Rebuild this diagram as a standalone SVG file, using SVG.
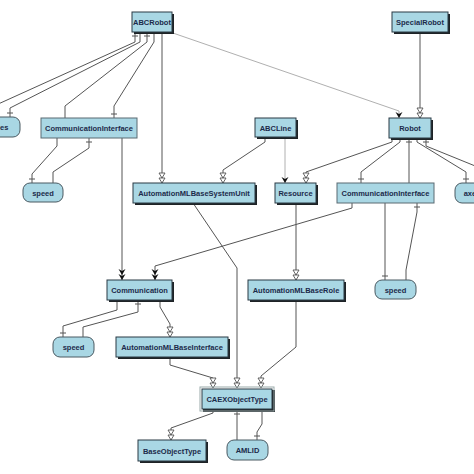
<svg xmlns="http://www.w3.org/2000/svg" width="474" height="474" viewBox="0 0 474 474">
<style>
.bg{fill:#ffffff}
.box{fill:#a9d7e4;stroke:#2a3a44;stroke-width:1}
.ci{fill:#a9d7e4;stroke:#5a6a72;stroke-width:1}
.rnd{fill:#a9d7e4;stroke:#4a5a62;stroke-width:1}
.sh{fill:#1e2326}
.t{font-family:"Liberation Sans",Arial,sans-serif;font-size:7.5px;font-weight:bold;fill:#1c2a4a;text-anchor:middle}
.c{fill:none;stroke:#555;stroke-width:1}
.lg{fill:none;stroke:#b0b0b0;stroke-width:1}
</style>
<defs>
<marker id="gen" markerUnits="userSpaceOnUse" markerWidth="14" markerHeight="10" refX="12" refY="5" orient="auto" viewBox="0 0 14 10">
<path d="M12,5 L7,2 L7,8 Z M7,5 L2,2 L2,8 Z" fill="#fff" stroke="#555" stroke-width="0.9"/>
</marker>
<marker id="blk" markerUnits="userSpaceOnUse" markerWidth="10" markerHeight="10" refX="8" refY="5" orient="auto" viewBox="0 0 10 10">
<path d="M8,5 L2,1.5 L4,5 L2,8.5 Z" fill="#111"/>
</marker>
<marker id="blk2" markerUnits="userSpaceOnUse" markerWidth="14" markerHeight="10" refX="12" refY="5" orient="auto" viewBox="0 0 14 10">
<path d="M12,5 L6,1.5 L8,5 L6,8.5 Z M7,5 L1,1.5 L3,5 L1,8.5 Z" fill="#111"/>
</marker>
<marker id="plusE" markerUnits="userSpaceOnUse" markerWidth="10" markerHeight="10" refX="8" refY="5" orient="auto" viewBox="0 0 10 10">
<path d="M4,2 L4,8" stroke="#555" stroke-width="1"/>
</marker>
<marker id="plusS" markerUnits="userSpaceOnUse" markerWidth="10" markerHeight="10" refX="2" refY="5" orient="auto" viewBox="0 0 10 10">
<path d="M6,2 L6,8" stroke="#555" stroke-width="1"/>
</marker>
</defs>
<rect class="bg" x="0" y="0" width="474" height="474"/>
<g id="connectors">
<path class="c" d="M135,32 V42 L-15,110 V117" marker-start="url(#plusS)"/>
<path class="c" d="M140,32 V42 L10,108 V117" marker-end="url(#plusE)"/>
<path class="c" d="M147,32 V42 L65,106 V118" marker-start="url(#plusS)"/>
<path class="c" d="M154,32 V42 L114,106 V118" marker-end="url(#plusE)"/>
<path class="c" d="M162,32 V183" marker-end="url(#gen)"/>
<path class="lg" d="M170,32 L399,111 V118" marker-end="url(#blk)"/>
<path class="c" d="M420,32 V118" marker-end="url(#gen)"/>
<path class="c" d="M265,137 V142 L223,170 V183" marker-end="url(#gen)"/>
<path class="lg" d="M285,137 V183" marker-end="url(#blk)"/>
<path class="c" d="M392,138 V142 L306,172 V183" marker-end="url(#gen)"/>
<path class="c" d="M400,138 V142 L361,172 V183" marker-end="url(#plusE)"/>
<path class="c" d="M409,138 V183" marker-start="url(#plusS)"/>
<path class="c" d="M417,138 V142 L466,172 V183" marker-end="url(#plusE)"/>
<path class="c" d="M426,138 V146 L490,172" marker-start="url(#plusS)"/>
<path class="c" d="M57,138 V146 L32,174 V183" marker-end="url(#plusE)"/>
<path class="c" d="M53,183 V172 L89,148 V138" marker-end="url(#plusE)"/>
<path class="c" d="M122,138 V280" marker-end="url(#blk2)"/>
<path class="c" d="M352,203 V208 L155,266 V280" marker-end="url(#blk2)"/>
<path class="c" d="M385,203 V280" marker-end="url(#plusE)"/>
<path class="c" d="M406,280 V270 L417,212 V203" marker-end="url(#plusE)"/>
<path class="c" d="M296,203 V280" marker-end="url(#gen)"/>
<path class="c" d="M193,203 L237,268 V388" marker-end="url(#gen)"/>
<path class="c" d="M117,300 V310 L63,326 V337" marker-end="url(#plusE)"/>
<path class="c" d="M83,337 V327 L138,312 V300" marker-end="url(#plusE)"/>
<path class="c" d="M160,300 V307 L170,324 V337" marker-end="url(#gen)"/>
<path class="c" d="M170,357 V365 L213,378 V388" marker-end="url(#gen)"/>
<path class="c" d="M296,300 V347 L261,376 V388" marker-end="url(#gen)"/>
<path class="c" d="M213,410 V413 L171,428 V440" marker-end="url(#gen)"/>
<path class="c" d="M237,410 V440" marker-start="url(#plusS)"/>
<path class="c" d="M262,410 V424 L257,432 V440" marker-end="url(#plusE)"/>
</g>
<g id="ABCRobot"><rect class="sh" x="134" y="14" width="40" height="20"/><rect class="box" x="132" y="12" width="40" height="20"/><text class="t" x="152" y="25">ABCRobot</text></g>
<g id="SpecialRobot"><rect class="sh" x="394" y="14" width="56" height="20"/><rect class="box" x="392" y="12" width="56" height="20"/><text class="t" x="420" y="25">SpecialRobot</text></g>
<g id="axesLeft"><rect class="rnd" x="-20" y="117" width="40" height="20" rx="7"/><text class="t" x="0" y="130">axes</text></g>
<g id="CommunicationInterfaceLeft"><rect class="ci" x="41" y="118" width="96" height="20"/><text class="t" x="89" y="131">CommunicationInterface</text></g>
<g id="ABCLine"><rect class="sh" x="257" y="120" width="41" height="19"/><rect class="box" x="255" y="118" width="41" height="19"/><text class="t" x="275.5" y="130.5">ABCLine</text></g>
<g id="Robot"><rect class="sh" x="391" y="120" width="42" height="20"/><rect class="box" x="389" y="118" width="42" height="20"/><text class="t" x="410" y="131">Robot</text></g>
<g id="AutomationMLBaseSystemUnit"><rect class="sh" x="135" y="185" width="122" height="20"/><rect class="box" x="133" y="183" width="122" height="20"/><text class="t" x="194" y="196">AutomationMLBaseSystemUnit</text></g>
<g id="Resource"><rect class="sh" x="277" y="185" width="41" height="20"/><rect class="box" x="275" y="183" width="41" height="20"/><text class="t" x="295.5" y="196">Resource</text></g>
<g id="CommunicationInterfaceRight"><rect class="ci" x="337" y="183" width="97" height="20"/><text class="t" x="385.5" y="196">CommunicationInterface</text></g>
<g id="axesRight"><rect class="rnd" x="455" y="183" width="50" height="20" rx="7"/><text class="t" x="472" y="196">axes</text></g>
<g id="speedTop"><rect class="rnd" x="23" y="183" width="40" height="19" rx="7"/><text class="t" x="43" y="195.5">speed</text></g>
<g id="Communication"><rect class="sh" x="109" y="282" width="65" height="20"/><rect class="box" x="107" y="280" width="65" height="20"/><text class="t" x="139.5" y="293">Communication</text></g>
<g id="AutomationMLBaseRole"><rect class="sh" x="250" y="282" width="96" height="20"/><rect class="box" x="248" y="280" width="96" height="20"/><text class="t" x="296" y="293">AutomationMLBaseRole</text></g>
<g id="speedRight"><rect class="rnd" x="375" y="280" width="41" height="19" rx="7"/><text class="t" x="395.5" y="292.5">speed</text></g>
<g id="speedLeft"><rect class="rnd" x="53" y="337" width="41" height="20" rx="7"/><text class="t" x="73.5" y="350">speed</text></g>
<g id="AutomationMLBaseInterface"><rect class="sh" x="118" y="339" width="112" height="20"/><rect class="box" x="116" y="337" width="112" height="20"/><text class="t" x="172" y="350">AutomationMLBaseInterface</text></g>
<g id="CAEXObjectType"><rect class="sh" x="203" y="390" width="72" height="22"/><rect x="200" y="387" width="74" height="24" fill="none" stroke="#9aa" stroke-width="1"/><rect class="box" x="202" y="389" width="70" height="20"/><text class="t" x="237" y="402">CAEXObjectType</text></g>
<g id="BaseObjectType"><rect class="sh" x="140" y="442" width="68" height="21"/><rect class="box" x="138" y="440" width="68" height="21"/><text class="t" x="172" y="453.5">BaseObjectType</text></g>
<g id="AMLID"><rect class="rnd" x="227" y="440" width="41" height="20" rx="7"/><text class="t" x="247.5" y="453">AMLID</text></g>
</svg>
